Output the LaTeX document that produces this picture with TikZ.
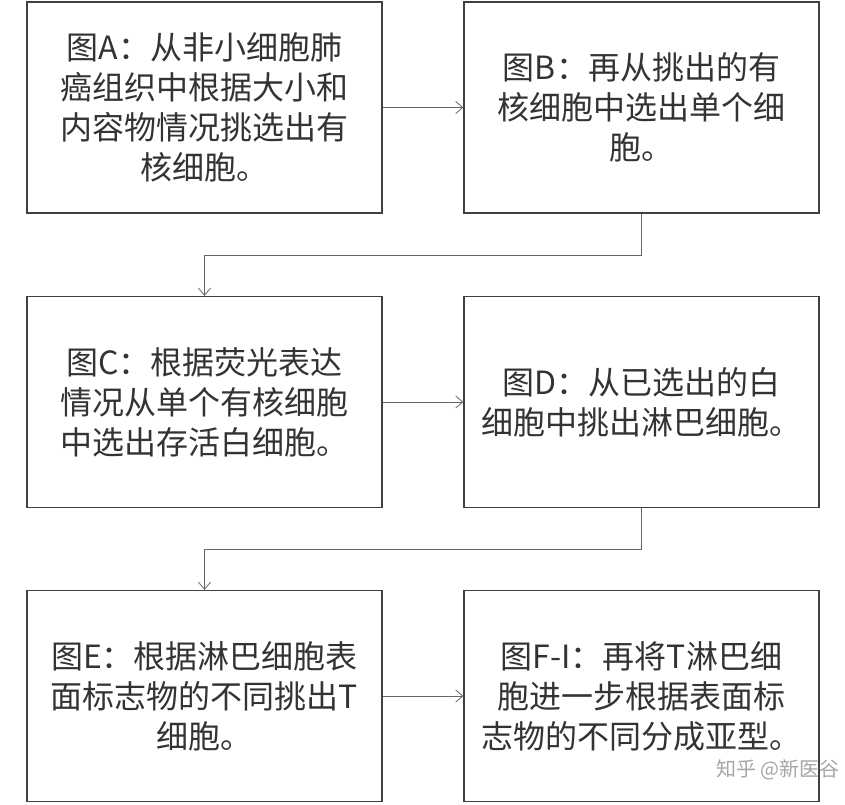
\documentclass[tikz,border=0pt]{standalone}
\usepackage{fontspec}
\setmainfont{Noto Sans CJK SC}
\usetikzlibrary{arrows.meta}
\begin{document}
\begin{tikzpicture}[x=1pt,y=-1pt,
  box/.style={draw=black!75,line width=1.3pt,minimum width=355pt,minimum height=211pt,inner sep=0pt,align=center,font=\fontsize{32}{40}\selectfont,text=black!80},
  conn/.style={draw=black!60,line width=0.8pt,-{Straight Barb[length=7pt,width=12pt]}}]
\useasboundingbox (0,0) rectangle (845,804);
\node[box] (A) at (204.5,107.5) {图A：从非小细胞肺\\癌组织中根据大小和\\内容物情况挑选出有\\核细胞。};
\node[box] (B) at (641.5,107.5) {图B：再从挑出的有\\核细胞中选出单个细\\胞。};
\node[box] (C) at (204.5,402) {图C：根据荧光表达\\情况从单个有核细胞\\中选出存活白细胞。};
\node[box] (D) at (641.5,402) {图D：从已选出的白\\细胞中挑出淋巴细胞。};
\node[box] (E) at (204.5,696) {图E：根据淋巴细胞表\\面标志物的不同挑出T\\细胞。};
\node[box] (F) at (641.5,696) {图F-I：再将T淋巴细\\胞进一步根据表面标\\志物的不同分成亚型。};
\draw[conn] (A.east) -- (B.west);
\draw[conn] (C.east) -- (D.west);
\draw[conn] (E.east) -- (F.west);
\draw[conn] (B.south) -- ++(0,42) -| (C.north);
\draw[conn] (D.south) -- ++(0,41) -| (E.north);
\node[text=black!35,font=\fontsize{20}{24}\selectfont,anchor=east] (W) at (843,770) {知乎 @新医谷};
\end{tikzpicture}
\end{document}
